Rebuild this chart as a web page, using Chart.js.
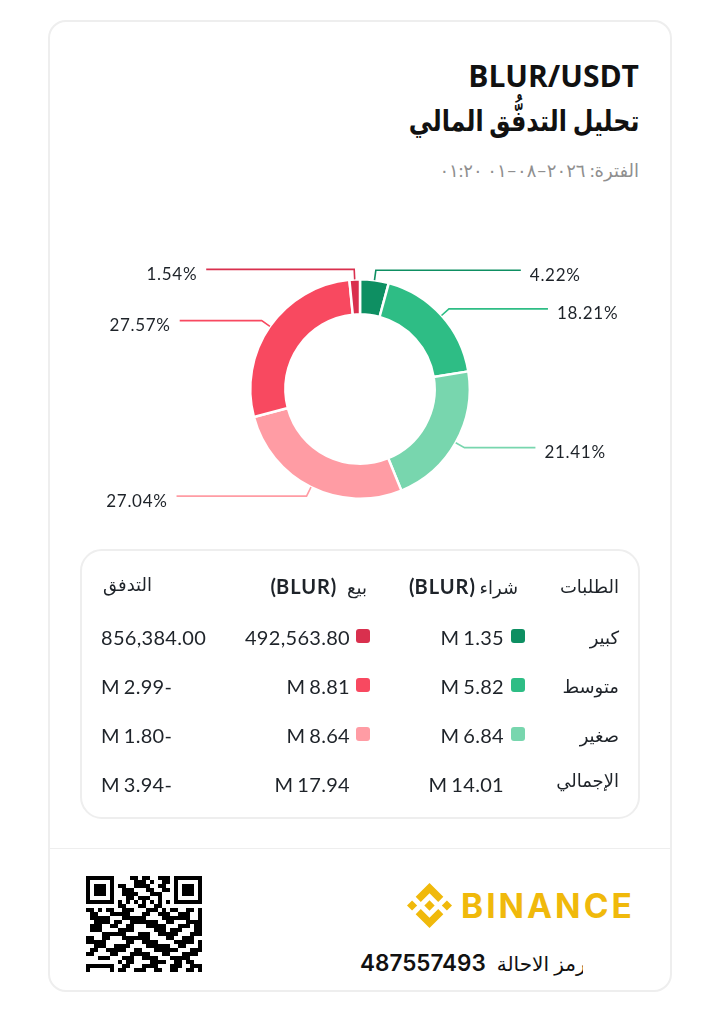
<!DOCTYPE html>
<html lang="ar">
<head>
<meta charset="utf-8">
<title>BLUR/USDT</title>
<script src="https://cdn.jsdelivr.net/npm/chart.js@4"></script>
<style>
    html, body { margin: 0; padding: 0; background: #fff; }
    body { width: 720px; height: 1011px; position: relative; overflow: hidden; font-family: Lato, "DejaVu Sans", sans-serif; color: #1e2329; }
    .card { position: absolute; left: 48px; top: 20px; width: 620px; height: 968px; border: 2px solid #eeeeee; border-radius: 18px; }
    .box { position: absolute; left: 80px; top: 549px; width: 556px; height: 266px; border: 2px solid #eeeeee; border-radius: 22px; }
    .rule { position: absolute; left: 50px; top: 848px; width: 620px; height: 1px; background: #eeeeee; }
    .t { position: absolute; white-space: nowrap; line-height: 1; transform: translateY(-50%); }
    .r { direction: rtl; }
    .num { font-size: 20px; letter-spacing: 0.3px; word-spacing: -1.5px; }
    .head b { font-size: 20px; letter-spacing: 1px; }
    .swatch { position: absolute; width: 14px; height: 14px; border-radius: 3px; }
    #donut { position: absolute; left: 0; top: 230px; }
    #qr { position: absolute; left: 86px; top: 876px; }
    #logo { position: absolute; left: 407px; top: 883px; }
    #brand { position: absolute; left: 461px; top: 907px; transform: translateY(-50%); font: 700 33.5px/1 Inter, sans-serif; color: #f0b90b; letter-spacing: 3px; }
    #ref { position: absolute; left: 360px; top: 950px; width: 223px; height: 26px; overflow: hidden; white-space: nowrap; line-height: 26px; color: #111; }
    #ref b { font: 600 22.5px/26px Inter, sans-serif; letter-spacing: 0.5px; margin-right: 11px; }
    #ref span { font-size: 20px; }
</style>
</head>
<body>
<div class="card"></div>
<div class="t" style="right:81px;top:76px;font:700 30px/1 'Open Sans',sans-serif;color:#111">BLUR/USDT</div>
<div class="t r" style="right:81px;top:120px;font-weight:700;font-size:29px;line-height:1.3;color:#111;transform:translateY(-50%) scaleX(0.82);transform-origin:right center">تحليل التدفُّق المالي</div>
<div class="t r" style="right:81px;top:170px;font-size:18px;color:#8f8f8f">الفترة: ٢٠٢٦–٠٨–٠١ ٠١:٢٠</div>

<canvas id="donut" width="720" height="320"></canvas>

<div class="box"></div>
<div id="table"></div>

<div class="rule"></div>
<canvas id="qr" width="116" height="96"></canvas>
<svg id="logo" width="45" height="45" viewBox="0 0 126.61 126.61" fill="#f0b90b">
    <path d="M38.73 53.2l24.59-24.58 24.6 24.6 14.3-14.31L63.32 0 24.43 38.9l14.3 14.3z"/>
    <path d="M0 63.31l14.3-14.31 14.31 14.31-14.31 14.3z"/>
    <path d="M38.73 73.41l24.59 24.59 24.6-24.6 14.31 14.29-38.9 38.91-38.91-38.88-.02-.02z"/>
    <path d="M98 63.31l14.3-14.31 14.31 14.3-14.31 14.32z"/>
    <path d="M77.83 63.3L63.32 48.78 52.59 59.51l-1.24 1.23-2.54 2.54 14.51 14.5 14.51-14.47z"/>
</svg>
<div id="brand">BINANCE</div>
<div id="ref"><b>487557493</b><span>رمز الاحالة</span></div>

<script>
// slices, clockwise from the top
const sliceLabels = ['شراء كبير', 'شراء متوسط', 'شراء صغير', 'بيع صغير', 'بيع متوسط', 'بيع كبير'];
const sliceValues = [4.22, 18.21, 21.41, 27.04, 27.57, 1.54];
const sliceColors = ['#0e8f62', '#2ebd85', '#78d6ae', '#ff9ca4', '#f84960', '#d9304e'];
// length of the horizontal part of each leader line
const leaderRuns = [145, 99, 71, 130, 82, 148];

// table
const rowNames = ['كبير', 'متوسط', 'صغير'];
const buyValues = ['M 1.35', 'M 5.82', 'M 6.84'];
const sellValues = ['492,563.80', 'M 8.81', 'M 8.64'];
const flowValues = ['856,384.00', 'M 2.99-', 'M 1.80-'];
const buyColors = ['#0e8f62', '#2ebd85', '#78d6ae'];
const sellColors = ['#d9304e', '#f84960', '#ff9ca4'];
const totalName = 'الإجمالي';
const totalBuy = 'M 14.01';
const totalSell = 'M 17.94';
const totalFlow = 'M 3.94-';

// QR modules, the bottom rows are cut off by the card
const qrRows = [
    '11111110000110110011101111111',
    '10000010000011101001101000001',
    '10111010110011110011001011101',
    '10111010011100011001101011101',
    '10111010011110001110001011101',
    '10000010001101110010001000001',
    '11111110101010101010101111111',
    '00000000110001100110000000000',
    '11010110011100011101011001101',
    '01100011111000110011100111001',
    '01111100011111100001111111001',
    '00111101100111111100110001111',
    '01110011001100011111000111011',
    '01110000111100000111011100011',
    '00001111110001110011111000111',
    '11001100011111110000110011100',
    '11111000001100111100001111101',
    '00111001111000011111100110001',
    '01100111110011000111111000111',
    '11000011000111110001100011110',
    '00011100011100111100011111000',
    '00000000101100001111001101100',
    '11111110011000111100011100111',
    '10000010110011100110011001101'
];

const leaderPlugin = {
    id: 'leaders',
    afterDatasetsDraw(chart) {
        const ctx = chart.ctx;
        ctx.save();
        ctx.lineWidth = 1.6;
        ctx.font = '17px Lato, sans-serif';
        ctx.letterSpacing = '0.7px';
        ctx.textBaseline = 'middle';
        chart.getDatasetMeta(0).data.forEach(function (arc, i) {
            const mid = (arc.startAngle + arc.endAngle) / 2;
            const x0 = arc.x + Math.cos(mid) * arc.outerRadius;
            const y0 = arc.y + Math.sin(mid) * arc.outerRadius;
            const x1 = arc.x + Math.cos(mid) * (arc.outerRadius + 10);
            const y1 = arc.y + Math.sin(mid) * (arc.outerRadius + 10);
            const side = Math.cos(mid) >= 0 ? 1 : -1;
            const x2 = x1 + side * leaderRuns[i];
            ctx.strokeStyle = sliceColors[i];
            ctx.beginPath();
            ctx.moveTo(x0, y0);
            ctx.lineTo(x1, y1);
            ctx.lineTo(x2, y1);
            ctx.stroke();
            ctx.fillStyle = '#1e2329';
            ctx.textAlign = side > 0 ? 'left' : 'right';
            ctx.fillText(sliceValues[i].toFixed(2) + '%', x2 + side * 9, y1 + 5);
        });
        ctx.restore();
    }
};

new Chart(document.getElementById('donut'), {
    type: 'doughnut',
    data: {
        labels: sliceLabels,
        datasets: [{
            data: sliceValues,
            backgroundColor: sliceColors,
            borderColor: '#ffffff',
            borderWidth: 2.5
        }]
    },
    options: {
        responsive: false,
        animation: false,
        cutout: '68%',
        layout: { padding: { top: 48, bottom: 50 } },
        plugins: { legend: { display: false }, tooltip: { enabled: false } }
    },
    plugins: [leaderPlugin]
});

// table text
const table = document.getElementById('table');
const colRowName = 101, colBuy = 216, colSell = 370;

function addText(text, side, offset, y, cls) {
    const el = document.createElement('div');
    el.className = 't ' + cls;
    el.style[side] = offset + 'px';
    el.style.top = y + 'px';
    el.textContent = text;
    table.appendChild(el);
    return el;
}
function addName(text, y) {
    addText(text, 'right', colRowName, y, 'r').style.fontSize = '18px';
}
function addHead(word, offset, gap) {
    const el = addText(word + ' ', 'right', offset, 586, 'r head');
    el.style.fontSize = '18px';
    const pair = document.createElement('b');
    pair.style.marginRight = gap + 'px';
    pair.textContent = '(BLUR)';
    el.appendChild(pair);
}
function addSwatch(x, y, color) {
    const el = document.createElement('div');
    el.className = 'swatch';
    el.style.left = x + 'px';
    el.style.top = (y - 8) + 'px';
    el.style.background = color;
    table.appendChild(el);
}

addName('الطلبات', 586);
addHead('شراء', 202, 0);
addHead('بيع', 353, 6);
addText('التدفق', 'right', 568, 584, 'r').style.fontSize = '18px';

const rowY = [637, 686, 735];
rowNames.forEach(function (name, i) {
    addName(name, rowY[i]);
    addText(buyValues[i], 'right', colBuy, rowY[i], 'num');
    addSwatch(511, rowY[i], buyColors[i]);
    addText(sellValues[i], 'right', colSell, rowY[i], 'num');
    addSwatch(356, rowY[i], sellColors[i]);
    addText(flowValues[i], 'left', 101, rowY[i], 'num');
});
addName(totalName, 780);
addText(totalBuy, 'right', colBuy, 784, 'num');
addText(totalSell, 'right', colSell, 784, 'num');
addText(totalFlow, 'left', 101, 784, 'num');

// QR
const qr = document.getElementById('qr').getContext('2d');
qr.fillStyle = '#000';
qrRows.forEach(function (row, r) {
    for (let c = 0; c < row.length; c++) {
        if (row[c] === '1') qr.fillRect(c * 4, r * 4, 4, 4);
    }
});
</script>
</body>
</html>
